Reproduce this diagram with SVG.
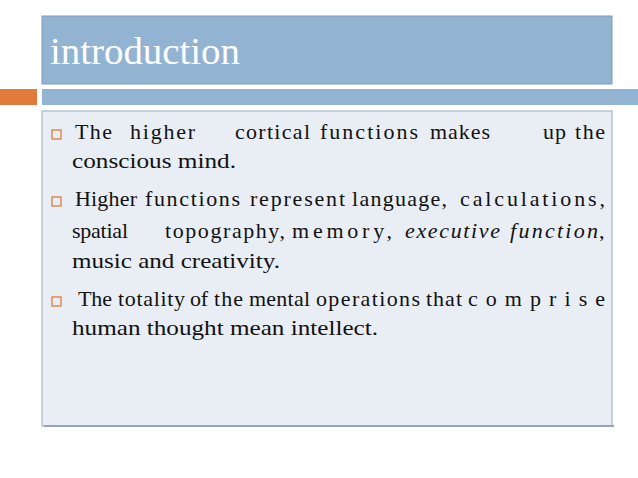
<svg xmlns="http://www.w3.org/2000/svg" width="638" height="478" viewBox="0 0 638 478">
<style>
.t{font-family:"Liberation Serif","DejaVu Serif",serif;font-size:22px;fill:#111}
.b{fill:none;stroke:#e07b3c;stroke-width:1.3}
</style>
<rect width="638" height="478" fill="#fff"/>
<g id="title">
<rect x="42" y="16" width="570" height="68" fill="#93b3d3" stroke="#7f9bb8"/>
<text x="50" y="64" textLength="190" lengthAdjust="spacingAndGlyphs" style="font-family:'Liberation Serif','DejaVu Serif',serif;font-size:37px" fill="#fff">introduction</text>
</g>
<g id="bars">
<rect x="0" y="89" width="37" height="16" fill="#e07b3c"/>
<rect x="42" y="89" width="596" height="16" fill="#93b3d3"/>
</g>
<g id="content">
<rect x="42" y="111" width="570" height="315" fill="#e9eef5" stroke="#b7c3cf" stroke-width="1.5"/>
<rect x="44" y="425" width="570" height="2" fill="#98a4b0"/>
<rect x="52" y="130" width="9" height="9" class="b"/>
<rect x="52" y="197" width="9" height="9" class="b"/>
<rect x="52" y="297" width="9" height="9" class="b"/>
<text class="t" y="139" lengthAdjust="spacingAndGlyphs"><tspan x="75" textLength="37">The</tspan><tspan x="130" textLength="65">higher</tspan><tspan x="235" textLength="75">cortical</tspan><tspan x="320" textLength="98">functions</tspan><tspan x="430" textLength="60">makes</tspan><tspan x="543" textLength="23">up</tspan><tspan x="575" textLength="30">the</tspan></text>
<text class="t" x="72" y="168" textLength="164" lengthAdjust="spacingAndGlyphs">conscious mind.</text>
<text class="t" y="206"><tspan x="75" textLength="62">Higher</tspan><tspan x="145" textLength="95">functions</tspan><tspan x="250" textLength="95">represent</tspan><tspan x="352" textLength="95">language,</tspan><tspan x="460" textLength="145">calculations,</tspan></text>
<text class="t" y="238"><tspan x="72" textLength="56">spatial</tspan><tspan x="165" textLength="120">topography,</tspan><tspan x="292" textLength="100">memory,</tspan><tspan x="405" textLength="95" font-style="italic">executive</tspan><tspan x="510" textLength="88" font-style="italic">function</tspan><tspan x="599">,</tspan></text>
<text class="t" x="72" y="268" textLength="208" lengthAdjust="spacingAndGlyphs">music and creativity.</text>
<text class="t" y="306"><tspan x="78" textLength="34">The</tspan><tspan x="118" textLength="67">totality</tspan><tspan x="190" textLength="18">of</tspan><tspan x="214" textLength="29">the</tspan><tspan x="249" textLength="61">mental</tspan><tspan x="316" textLength="104">operations</tspan><tspan x="426" textLength="36">that</tspan><tspan x="468" textLength="137">comprise</tspan></text>
<text class="t" x="72" y="335" textLength="306" lengthAdjust="spacingAndGlyphs">human thought mean intellect.</text>
</g>
</svg>
